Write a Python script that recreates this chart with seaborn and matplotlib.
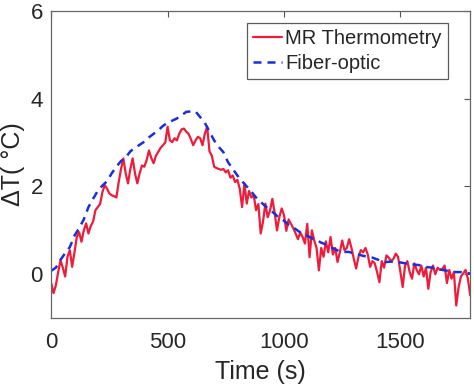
import numpy as np
import pandas as pd
import matplotlib
matplotlib.use("Agg")
import matplotlib.pyplot as plt
import seaborn as sns

# MR thermometry, sampled every 10 s
mr_temp = [
    -0.20, -0.43, -0.25, 0.05, 0.32, 0.15, -0.05, 0.40, 0.55, 0.17,
    0.50, 0.85, 0.96, 0.74, 1.00, 1.16, 0.93, 1.10, 1.20, 1.46,
    1.53, 1.60, 1.87, 2.03, 1.95, 1.84, 1.80, 1.78, 1.75, 2.10,
    2.40, 2.64, 2.30, 2.07, 2.40, 2.64, 2.30, 2.07, 2.30, 2.48,
    2.45, 2.60, 2.82, 2.65, 2.53, 2.70, 2.79, 2.88, 2.94, 3.00,
    3.36, 3.05, 3.01, 3.10, 3.05, 3.20, 3.30, 3.32, 3.25, 3.20,
    3.08, 2.94, 3.05, 3.13, 3.10, 2.94, 3.20, 3.36, 2.80, 2.70,
    2.45, 2.42, 2.40, 2.38, 2.40, 2.32, 2.37, 2.20, 2.25, 2.10,
    2.15, 1.95, 1.53, 2.07, 1.61, 1.90, 1.75, 1.80, 1.46, 1.60,
    0.93, 1.20, 1.61, 1.30, 1.45, 1.72, 1.40, 1.00, 1.30, 1.50,
    1.35, 0.99, 1.25, 1.15, 1.05, 0.93, 0.80, 0.95, 0.85, 0.70,
    1.15, 0.39, 1.00, 0.77, 0.60, 0.09, 0.60, 0.40, 0.75, 0.50,
    0.85, 0.45, 0.60, 0.28, 0.50, 0.77, 0.55, 0.60, 0.80, 0.60,
    0.35, 0.13, 0.40, 0.55, 0.50, 0.60, 0.45, 0.17, 0.30, 0.25,
    0.05, -0.18, 0.30, 0.15, 0.43, 0.38, 0.30, 0.35, 0.47, 0.40,
    0.05, -0.29, 0.20, 0.30, 0.05, -0.10, 0.25, 0.10, 0.00, 0.20,
    -0.05, 0.15, -0.33, 0.05, 0.20, 0.00, 0.15, 0.10, 0.12, 0.20,
    -0.20, 0.10, -0.10, 0.05, -0.71, -0.30, -0.05, 0.02, 0.10, -0.10,
    -0.48,
]
mr_time = [10 * i for i in range(len(mr_temp))]

# fiber-optic probe, sampled every 20 s
fo_temp = [
    0.08, 0.15, 0.33, 0.48, 0.62, 0.88, 1.05, 1.25, 1.53, 1.72,
    1.90, 2.02, 2.12, 2.30, 2.45, 2.58, 2.66, 2.80, 2.88, 2.95,
    3.02, 3.12, 3.20, 3.28, 3.38, 3.45, 3.50, 3.55, 3.62, 3.70,
    3.71, 3.71, 3.58, 3.45, 3.25, 3.05, 2.90, 2.78, 2.55, 2.40,
    2.25, 2.12, 2.00, 1.88, 1.75, 1.65, 1.55, 1.47, 1.38, 1.28,
    1.22, 1.13, 1.07, 0.99, 0.92, 0.88, 0.82, 0.78, 0.72, 0.68,
    0.62, 0.57, 0.52, 0.51, 0.51, 0.47, 0.45, 0.42, 0.40, 0.38,
    0.34, 0.30, 0.28, 0.29, 0.26, 0.27, 0.25, 0.24, 0.22, 0.21,
    0.18, 0.16, 0.15, 0.12, 0.10, 0.08, 0.06, 0.05, 0.05, 0.03,
    0.02,
]
fo_time = [20 * i for i in range(len(fo_temp))]

x_ticks = [0, 500, 1000, 1500]
y_ticks = [0, 2, 4, 6]

sns.set_style("white")
plt.rcParams['font.family'] = ['Liberation Sans', 'DejaVu Sans']

fig = plt.figure(figsize=(4.74, 3.89), dpi=100)
ax = fig.add_axes([0.108, 0.182, 0.884, 0.790])

sns.lineplot(x=mr_time, y=mr_temp, ax=ax, color='#ee1c3a', lw=1.6,
             label='MR Thermometry')
sns.lineplot(x=fo_time, y=fo_temp, ax=ax, color='#1b2fd8', lw=1.8,
             linestyle=(0, (3.2, 2.4)), label='Fiber-optic')

ax.set_xlim(0, 1800)
ax.set_ylim(-1, 6)
ax.set_xticks(x_ticks)
ax.set_yticks(y_ticks)
ax.tick_params(direction='in', top=True, right=True, length=4,
               width=0.8, color='#555555', labelsize=16)
ax.tick_params(axis='x', pad=10)
ax.tick_params(axis='y', pad=6)
for s in ax.spines.values():
    s.set_visible(True)
    s.set_color('#666666')
    s.set_linewidth(0.9)

ax.set_xlabel('Time (s)', fontsize=18, labelpad=5)
ax.set_ylabel('ΔT( °C)', fontsize=18, labelpad=4)

leg = ax.legend(loc='upper right', bbox_to_anchor=(0.947, 0.961),
                borderaxespad=0, fontsize=14.5, frameon=True, fancybox=False,
                handlelength=1.45, handletextpad=0.15, borderpad=0.3,
                labelspacing=0.3)
leg.get_frame().set_edgecolor('#333333')
leg.get_frame().set_linewidth(0.9)

fig.savefig('out.png', dpi=100)
